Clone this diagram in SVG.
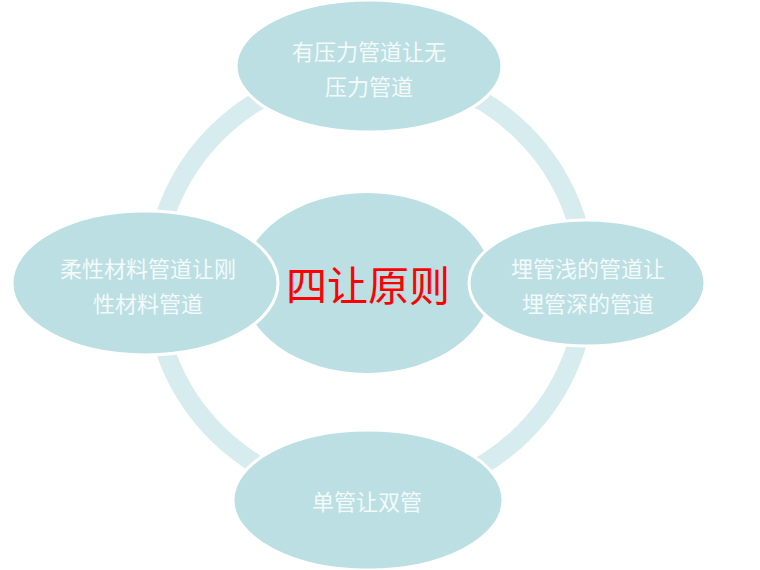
<svg xmlns="http://www.w3.org/2000/svg" width="760" height="570" viewBox="0 0 760 570">
  <style>
    .node { fill: #bbdfe2; stroke: #ffffff; stroke-width: 3; }
    .lbl { font-family: "Noto Sans CJK SC", "Noto Sans", sans-serif; font-size: 22px; fill: #f4fafa; text-anchor: middle; dominant-baseline: central; }
    .title { font-family: "Noto Sans CJK SC", "Noto Sans", sans-serif; font-size: 41px; fill: #ff0000; text-anchor: middle; dominant-baseline: central; }
  </style>
  <rect width="760" height="570" fill="#ffffff"/>
  <g id="connectors">
    <ellipse cx="370" cy="283" rx="216" ry="213" fill="none" stroke="#d7ecee" stroke-width="19"/>
  </g>
  <g id="center">
    <ellipse cx="367" cy="283" rx="125" ry="90" fill="#bbdfe2"/>
    <text class="title" x="368" y="283">四让原则</text>
  </g>
  <g id="top">
    <ellipse class="node" cx="369" cy="66" rx="133" ry="66"/>
    <text class="lbl" x="369" y="50">有压力管道让无</text>
    <text class="lbl" x="369" y="85">压力管道</text>
  </g>
  <g id="left">
    <ellipse class="node" cx="145" cy="283" rx="133" ry="72"/>
    <text class="lbl" x="148" y="267">柔性材料管道让刚</text>
    <text class="lbl" x="148" y="302">性材料管道</text>
  </g>
  <g id="right">
    <ellipse class="node" cx="587" cy="283" rx="118" ry="63"/>
    <text class="lbl" x="588" y="267">埋管浅的管道让</text>
    <text class="lbl" x="588" y="302">埋管深的管道</text>
  </g>
  <g id="bottom">
    <ellipse class="node" cx="368" cy="500" rx="135" ry="70"/>
    <text class="lbl" x="367" y="500">单管让双管</text>
  </g>
</svg>
